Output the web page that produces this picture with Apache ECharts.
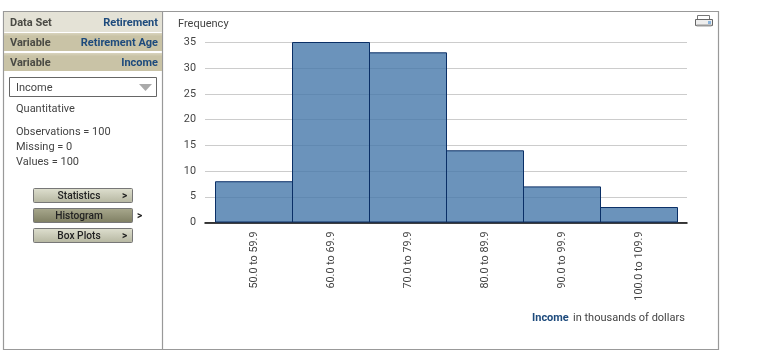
<!DOCTYPE html>
<html><head><meta charset="utf-8">
<style>html,body{margin:0;padding:0;background:#fff}#c{width:758px;height:364px}</style>
<script src="https://cdn.jsdelivr.net/npm/echarts@6/dist/echarts.min.js"></script>
</head><body><div id="c"></div>
<script>
const categories = ['50.0 to 59.9','60.0 to 69.9','70.0 to 79.9','80.0 to 89.9','90.0 to 99.9','100.0 to 109.9'];
const frequency = [8,35,33,14,7,3];
const yTicks = {min:0,max:35,interval:5};
const headerRows = [['Data Set','Retirement'],['Variable','Retirement Age'],['Variable','Income']];
const infoLines = ['Observations = 100','Missing = 0','Values = 100'];
const buttons = ['Statistics','Histogram','Box Plots'];

const FONT = 'Roboto';
const txt = (x,y,text,o={}) => ({type:'text',x,y:y+1,silent:true,z:10,style:Object.assign({
  text,fill:'#444',font:'11px '+FONT,textVerticalAlign:'middle',textBaseline:'middle'},o)});
const rect = (x,y,w,h,fill,o={}) => ({type:'rect',silent:true,z:o.z||5,shape:{x,y,width:w,height:h,r:o.r||0},
  style:{fill,stroke:o.stroke||null,lineWidth:o.lw||1}});
const grad = (a,b) => ({type:'linear',x:0,y:0,x2:0,y2:1,colorStops:[{offset:0,color:a},{offset:1,color:b}]});
const band = (a,b) => ({type:'linear',x:0,y:0,x2:0,y2:1,colorStops:[{offset:0,color:a},{offset:0.18,color:b},{offset:1,color:b}]});

const g = [];
g.push(rect(3.5,11.5,715,338,'rgba(0,0,0,0)',{stroke:'#999',lw:1.2}));
g.push({type:'line',silent:true,z:5,shape:{x1:162.5,y1:11,x2:162.5,y2:349},style:{stroke:'#999',lineWidth:1.2}});
const rowY=[[12,20,'#E4E2D6','#E4E2D6'],[33,18,'#D9D4BE','#C9C3A6'],[53,18,'#D9D4BE','#C9C3A6']];
const rowText=[22,42,62];
headerRows.forEach((r,i)=>{
  g.push(rect(4,rowY[i][0],158,rowY[i][1],band(rowY[i][2],rowY[i][3])));
  g.push(txt(10,rowText[i],r[0],{font:'bold 11px '+FONT,fill:'#4a4a44'}));
  g.push(txt(158,rowText[i],r[1],{font:'bold 11px '+FONT,fill:'#1d4a7c',textAlign:'right',align:'right'}));
});
g.push(rect(9.5,77.5,147,19,'#fff',{stroke:'#666'}));
g.push(txt(16,87,'Income'));
g.push({type:'polygon',silent:true,z:6,shape:{points:[[139,84],[152,84],[145.5,91]]},style:{fill:'#aaa'}});
g.push(txt(16,108,'Quantitative'));
infoLines.forEach((t,i)=>g.push(txt(16,131+i*15,t)));
buttons.forEach((b,i)=>{
  const y=188+i*20, active=i===1;
  g.push(rect(33.5,y+.5,99,14,active?grad('#a9a98e','#7e7e62'):grad('#dfe0d0','#b5b6a0'),{stroke:'#777',r:1}));
  g.push(txt(79,y+7,b,{textAlign:'center',align:'center',fill:'#222',font:'500 10.2px '+FONT}));
  g.push(txt(active?137:122,y+7,'>',{font:'bold 10px '+FONT,fill:'#222'}));
});
g.push(txt(178,23,'Frequency',{fill:'#444'}));
g.push(txt(532,317,'Income',{font:'bold 11px '+FONT,fill:'#1d4a7c'}));
g.push(txt(573,317,'in thousands of dollars',{fill:'#444'}));
// printer icon
g.push(rect(697.5,15.5,12,4,'#fff',{stroke:'#777'}));
g.push(rect(695.5,19.5,17,6,'#eee',{stroke:'#666'}));
g.push(rect(696.5,24.5,15,2,'#999'));
g.push(rect(708,21,3,3,'#8ab4dc'));

const chart = echarts.init(document.getElementById('c'),null,{renderer:'canvas'});
chart.setOption({
  animation:false,
  textStyle:{fontFamily:FONT},
  graphic:{elements:g},
  grid:[
    {left:205,width:482,top:42.5,height:180},
    {left:215.5,width:462,top:42,height:180.5}
  ],
  xAxis:[
    {gridIndex:0,type:'category',data:[''],axisLabel:{show:false},axisTick:{show:false},
     axisLine:{show:true,lineStyle:{color:'#000',width:1.5}}},
    {gridIndex:1,type:'category',data:categories,axisTick:{show:false},axisLine:{show:false},
     axisLabel:{rotate:90,interval:0,fontFamily:FONT,fontSize:10.8,color:'#444',margin:9}}
  ],
  yAxis:[
    {gridIndex:0,type:'value',min:yTicks.min,max:yTicks.max,interval:yTicks.interval,
     axisLine:{show:false},axisTick:{show:false},
     axisLabel:{fontFamily:FONT,fontSize:10.8,color:'#444',margin:9},
     splitLine:{show:true,lineStyle:{color:'#ccc',width:1}}},
    {gridIndex:1,type:'value',min:yTicks.min,max:yTicks.max,interval:yTicks.interval,show:false,splitLine:{show:false}}
  ],
  series:[{type:'bar',xAxisIndex:1,yAxisIndex:1,data:frequency,barWidth:78,silent:true,
    itemStyle:{color:'rgba(70,120,170,0.8)',borderColor:'#0a2f66',borderWidth:1}}]
});
</script></body></html>
